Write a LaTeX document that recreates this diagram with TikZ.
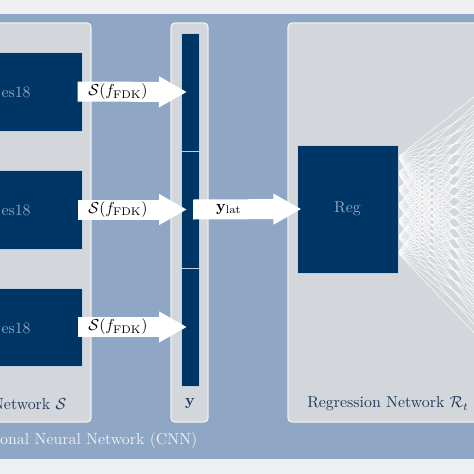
\documentclass[tikz,border=0pt]{standalone}
\usepackage{xcolor}
\usepackage{tikz}
\usetikzlibrary{positioning}
\usetikzlibrary{fit}
\usetikzlibrary{arrows.meta}

\definecolor{cnnblue}{RGB}{143,166,196}
\definecolor{panelgray}{RGB}{211,214,218}
\definecolor{deepblue}{RGB}{0,54,101}
\definecolor{paper}{RGB}{238,239,241}
\definecolor{labelnavy}{RGB}{30,58,92}

\begin{document}
\begin{tikzpicture}[x=0.63pt, y=-0.63pt]
\tikzset{
    panel/.style = {fill=panelgray, draw=white!60!panelgray, line width=0.8pt, rounded corners=2.5pt, inner sep=0pt},
    block/.style = {fill=deepblue, draw=white!45!cnnblue, line width=0.5pt, inner sep=0pt},
    blocktext/.style = {text=cnnblue, inner sep=0pt},
    fat/.style = {draw=white, line width=12.6pt, -{Triangle[length=17.6pt,width=18.3pt]}},
    fatlabel/.style = {text=black, inner sep=0pt},
    paneltitle/.style = {text=labelnavy},
    cnntitle/.style = {text=white!85!cnnblue},
    wire/.style = {draw=white, line width=0.45pt, opacity=0.75}
}
\useasboundingbox (0,0) rectangle (474,474);
\fill[paper] (0,0) rectangle (474,474);
\fill[cnnblue] (-5,14) rectangle (479,459);

\node[panel, fit={(-20,23) (91,422)}] (S) {};
\node[panel, fit={(171,23) (208,422)}] (Y) {};
\node[panel, fit={(288,23) (500,422)}] (R) {};

\node[block, fit={(-40,52) (82,131)}] (res1) {};
\node[block, fit={(-40,170) (82,249)}] (res2) {};
\node[block, fit={(-40,288) (82,366)}] (res3) {};
\node[blocktext, anchor=east] (res1text) at (31,92) {es18};
\node[blocktext, anchor=east] (res2text) at (31,210) {es18};
\node[blocktext, anchor=east] (res3text) at (31,328) {es18};

\node[block, fit={(181,33) (199,151)}] (y1) {};
\node[block, fit={(181,151) (199,268)}] (y2) {};
\node[block, fit={(181,268) (199,386)}] (y3) {};

\foreach \i in {0,...,6}
  \foreach \j in {0,...,13}
    \draw[wire] (398,157+\i*16) -- (560,29+\j*30.3);

\node[block, fit={(297,145) (398,273)}] (reg) {};
\node[blocktext] (regtext) at (reg.center) {Reg};

\draw[fat] ([xshift=-3pt]res1.east) -- ([xshift=4pt]y1.west) node[pos=0.37, fatlabel] {$\mathcal{S}(f_{\mathrm{FDK}})$};
\draw[fat] ([xshift=-3pt]res2.east) -- ([xshift=4pt]y2.west) node[pos=0.37, fatlabel] {$\mathcal{S}(f_{\mathrm{FDK}})$};
\draw[fat] ([xshift=-3pt]res3.east) -- ([xshift=4pt]y3.west) node[pos=0.37, fatlabel] {$\mathcal{S}(f_{\mathrm{FDK}})$};
\draw[fat] ([xshift=-4pt]y2.east) -- ([xshift=3pt]reg.west) node[pos=0.33, fatlabel] {$\mathbf{y}_{\mathrm{lat}}$};

\node[paneltitle, anchor=east] (Slabel) at (72,404) {Network $\mathcal{S}$};
\node[paneltitle] (Ylabel) at (190,404) {$\mathbf{y}$};
\node[paneltitle] (Rlabel) at (388,404) {Regression Network $\mathcal{R}_t$};
\node[cnntitle, anchor=east] (cnnlabel) at (203,441) {tional Neural Network (CNN)};
\end{tikzpicture}
\end{document}
